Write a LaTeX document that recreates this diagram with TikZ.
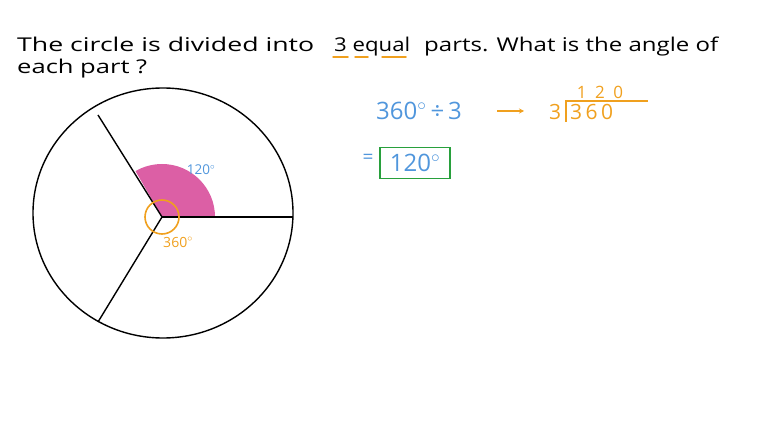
\documentclass[tikz,border=0pt]{standalone}
\usepackage{fontspec}
\usetikzlibrary{arrows.meta}
\setmainfont{Open Sans}
\definecolor{hblue}{RGB}{80,150,220}
\definecolor{horange}{RGB}{240,160,30}
\definecolor{hgreen}{RGB}{40,160,60}
\definecolor{hpink}{RGB}{220,95,165}
\begin{document}
\begin{tikzpicture}[x=1pt,y=-1pt,
  title/.style={anchor=base west,inner sep=0pt,font=\fontsize{19}{22}\selectfont},
  bluetxt/.style={text=hblue,inner sep=0pt},
  orgtxt/.style={text=horange,inner sep=0pt},
  ln/.style={line width=1.4pt,black}]
\useasboundingbox (0,0) rectangle (760,427);
% title
\node[title] (t1a) at (17,52) {\resizebox{297pt}{\height}{The circle is divided into}};
\node[title] (t1b) at (334,52) {\resizebox{76pt}{\height}{3 equal}};
\node[title] (t1c) at (424,52) {\resizebox{294pt}{\height}{parts. What is the angle of}};
\node[title] (t2) at (17,74) {\resizebox{130pt}{\height}{each part ?}};
\coordinate (c) at (162,217);
% underlines
\draw[horange,line width=1.5pt,line cap=round] (333,57) -- (348,57);
\draw[horange,line width=1.5pt,line cap=round] (355,57) -- (368,57);
\draw[horange,line width=1.5pt,line cap=round] (382,57) -- (406,57);
% sector
\fill[hpink] (c) -- ++(53,0) arc[start angle=0,end angle=-120,radius=53] -- cycle;
% circle
\draw[ln] (163,213) ellipse[x radius=130,y radius=125];
\coordinate (p1) at (293,217);
\coordinate (p2) at (98,115);
\coordinate (p3) at (98,322);
\draw[ln] (c) -- (p1);
\draw[ln] (c) -- (p2);
\draw[ln] (c) -- (p3);
\draw[horange,line width=1.6pt] (c) circle[radius=17];
\node[bluetxt,font=\fontsize{13.5}{14}\selectfont] (a1) at (201,170) {120$^\circ$};
\node[orgtxt,font=\fontsize{14}{15}\selectfont] (a2) at (178,242) {360$^\circ$};
% right side
\node[bluetxt,font=\fontsize{24}{26}\selectfont,anchor=west] (e1) at (376,111) {360$^\circ$\,÷\,3};
\coordinate (ar1) at (497,111);
\coordinate (ar2) at (524,111);
\draw[horange,line width=1.5pt,-{Stealth[length=5pt,width=5pt]}] (ar1) -- (ar2);
\node[orgtxt,font=\fontsize{21}{24}\selectfont] (d3) at (555,112) {3};
\node[orgtxt,font=\fontsize{21}{24}\selectfont,anchor=west] (d360) at (570,112) {3\,6\,0};
\node[orgtxt,font=\fontsize{17}{18}\selectfont] (d120) at (600,92) {1\,\,\,2\,\,\,0};
\coordinate (b1) at (566,122);
\coordinate (b2) at (566,101);
\coordinate (b3) at (648,101);
\draw[horange,line width=1.5pt] (b1) -- (b2) -- (b3);
\node[bluetxt,font=\fontsize{19}{22}\selectfont] (eq) at (368,159) {=};
\node[draw=hgreen,line width=1.6pt,text=hblue,font=\fontsize{24}{26}\selectfont,minimum width=70pt,minimum height=31pt,inner sep=0pt] (res) at (415,163) {120$^\circ$};
\end{tikzpicture}
\end{document}
